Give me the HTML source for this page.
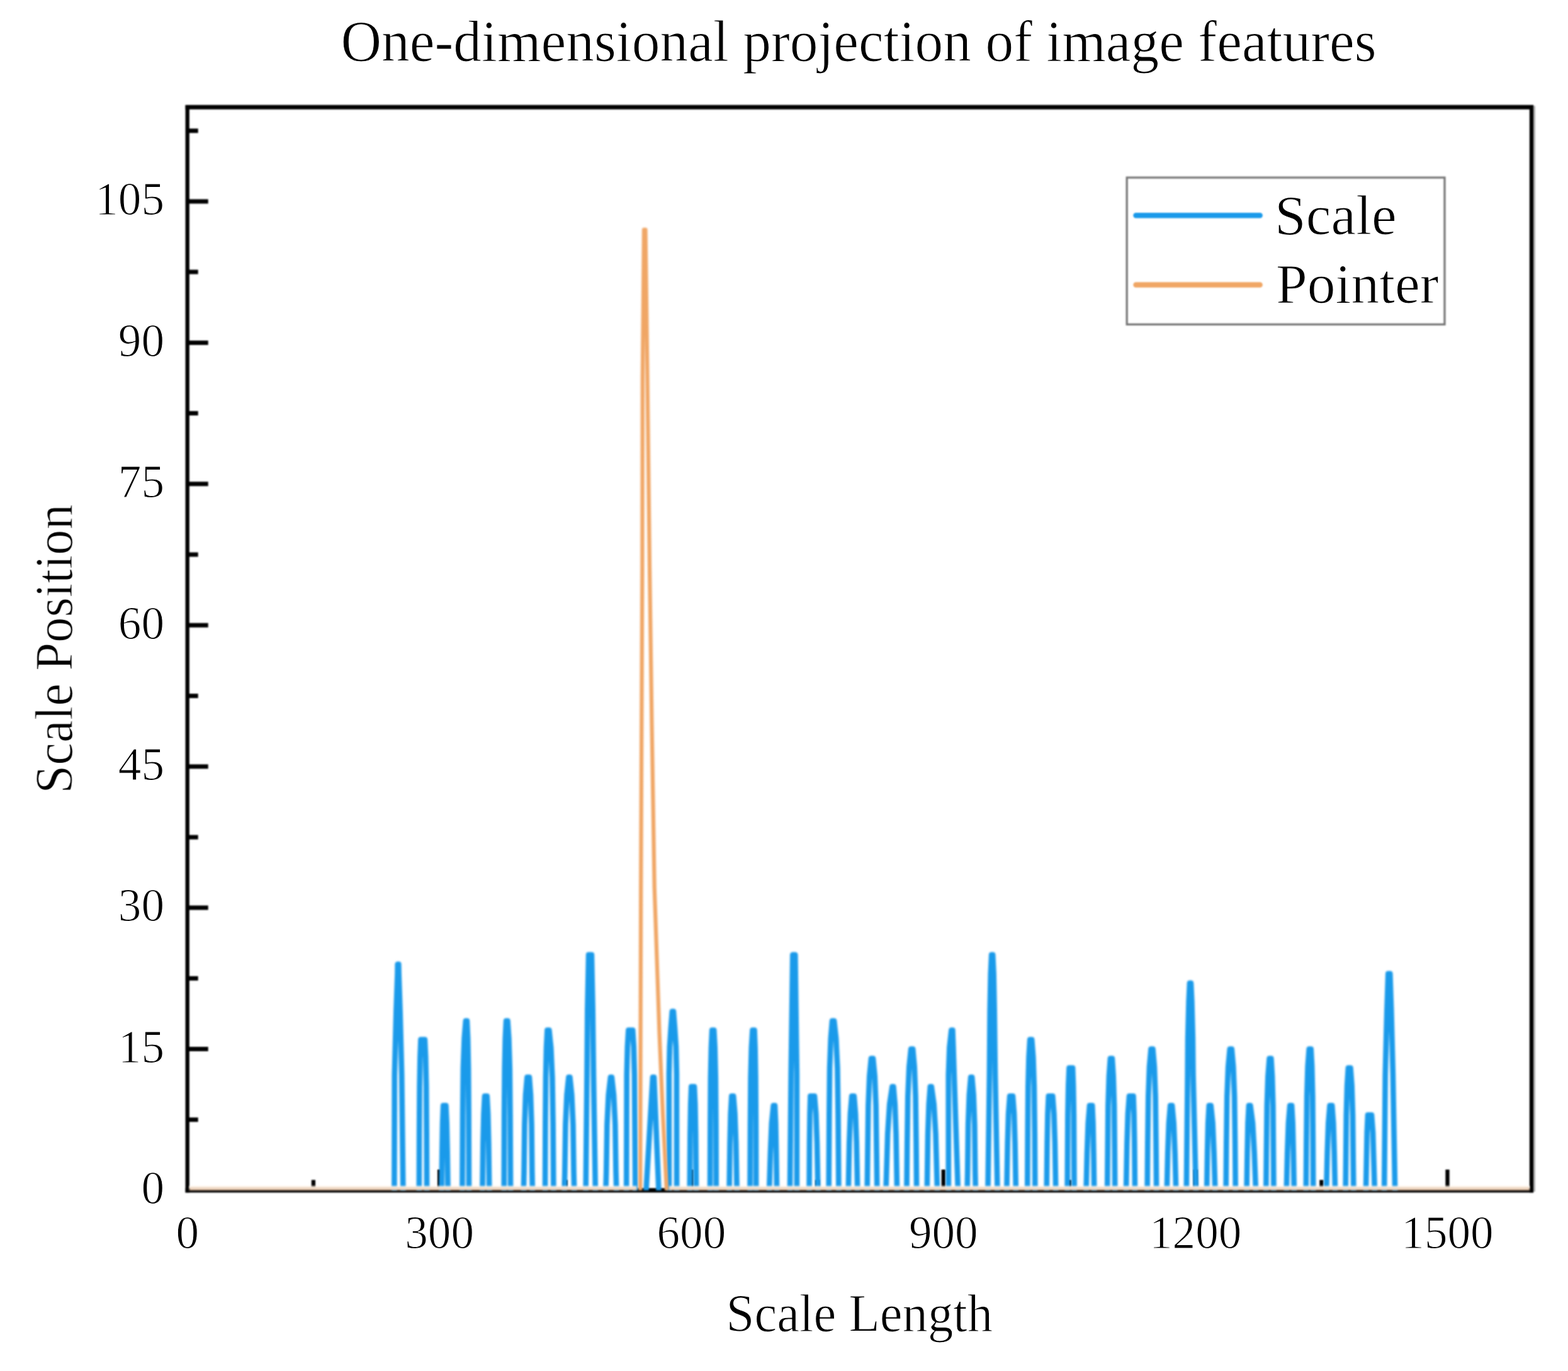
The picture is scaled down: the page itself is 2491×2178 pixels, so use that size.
<!DOCTYPE html>
<html lang="en">
<head>
<meta charset="utf-8">
<title>One-dimensional projection of image features</title>
<style>
html,body{margin:0;padding:0;background:#fff;}
body{width:2491px;height:2178px;overflow:hidden;}
svg{display:block;}
text{font-family:"Liberation Serif",serif;fill:#000;stroke:#fff;stroke-width:1.1px;stroke-linejoin:round;}
.tick{font-size:73.2px;}
.axt{font-size:84px;}
.ttl{font-size:89.5px;}
.ttl2{font-size:93.5px;}
.axh{stroke:#000;stroke-width:7;fill:none;}
.axv{stroke:#000;stroke-width:6.3;fill:none;}
.dat{fill:none;stroke-width:8.6;stroke-linejoin:round;stroke-linecap:butt;}
.btxt{filter:blur(0.6px);}
.bax{filter:blur(0.9px);}
.bdat{filter:blur(1.8px);}
.bdat2{filter:blur(1.5px);}
.bleg{filter:blur(1.3px);}
</style>
</head>
<body>
<svg width="2491" height="2178" viewBox="0 0 2491 2178">
<defs>
<clipPath id="plot"><rect x="297.7" y="170.3" width="2135.3" height="1720.7"/></clipPath>
<linearGradient id="zl" x1="0" y1="0" x2="0" y2="1"><stop offset="0" stop-color="#fdf3ea" stop-opacity="0"/><stop offset="0.3" stop-color="#fbeee2" stop-opacity="1"/><stop offset="0.62" stop-color="#f1d9c4" stop-opacity="1"/><stop offset="1" stop-color="#dfb795" stop-opacity="1"/></linearGradient>
</defs>
<rect x="0" y="0" width="2491" height="2178" fill="#fff"/>
<g class="bax">
<path class="axh" d="M294.6 170.3 H2436.1 M294.6 1891 H2436.1"/>
<path class="axv" d="M297.7 166.9 V1894.4 M2433 166.9 V1894.4"/>
<path d="M2437.6 168.3 V1893" stroke="#a8a8a8" stroke-width="2.6" fill="none"/>
<path class="axv" d="M497.9 1891 v-16.5 M698.1 1891 v-33 M898.3 1891 v-16.5 M1098.4 1891 v-33 M1298.6 1891 v-16.5 M1498.8 1891 v-33 M1699 1891 v-16.5 M1899.2 1891 v-33 M2099.4 1891 v-16.5 M2299.5 1891 v-33"/>
<path class="axh" d="M297.7 1778.8 h17 M297.7 1666.6 h33 M297.7 1554.3 h17 M297.7 1442.1 h33 M297.7 1329.9 h17 M297.7 1217.7 h33 M297.7 1105.5 h17 M297.7 993.2 h33 M297.7 881 h17 M297.7 768.8 h33 M297.7 656.6 h17 M297.7 544.4 h33 M297.7 432.1 h17 M297.7 319.9 h33 M297.7 207.7 h17"/>
</g>
<g class="bdat">
<g clip-path="url(#plot)">
<path class="dat" stroke="#1a9aea" d="M626.4 1894 L626.8 1707.9 L627.9 1663.9 L629.4 1605.9 L631.5 1546.9 L631.7 1531.9 L633.3 1531.9 L633.6 1546.9 L635.6 1605.9 L637.1 1663.9 L638.2 1707.9 L640.4 1894 M665.8 1894 L666.1 1801.6 L666.6 1726.6 L667.4 1679.6 L668.5 1651.6 L674.9 1651.6 L676.2 1679.6 L677.2 1726.6 L677.7 1801.6 L678.1 1894 M701.5 1894 L702.3 1831.3 L703.1 1784.3 L704.2 1756.3 L708.4 1756.3 L709.7 1784.3 L710.7 1831.3 L711.6 1894 M734.4 1894 L735.1 1771.7 L735.9 1696.7 L737.6 1649.7 L739.9 1621.7 L741.9 1621.7 L743.2 1649.7 L744.1 1696.7 L744.6 1771.7 L745 1894 M766.4 1894 L767.4 1816.4 L768.5 1769.4 L770 1741.4 L773.7 1741.4 L775.2 1769.4 L776.3 1816.4 L777.3 1894 M800.7 1894 L801.1 1771.7 L801.7 1696.7 L802.7 1649.7 L804.1 1621.7 L806.5 1621.7 L808.4 1649.7 L809.8 1696.7 L810.5 1771.7 L811.1 1894 M831.8 1894 L832.5 1861.4 L833.4 1786.4 L835 1739.4 L837.4 1711.4 L840.9 1711.4 L843 1739.4 L844.5 1786.4 L845.3 1861.4 L845.9 1894 M866 1894 L866.4 1786.6 L867 1711.6 L868 1664.6 L869.4 1636.6 L872.4 1636.6 L875.3 1664.6 L877.4 1711.6 L878.6 1786.6 L879.4 1894 M896.5 1894 L897.3 1861.4 L898.4 1786.4 L900.5 1739.4 L903.4 1711.4 L905.4 1711.4 L908.3 1739.4 L910.4 1786.4 L911.5 1861.4 L912.3 1894 M930.6 1894 L932.5 1706.9 L933.3 1604.9 L935.1 1516.9 L939.9 1516.9 L941.7 1604.9 L942.9 1706.9 L945.9 1894 M962.3 1894 L963.2 1861.4 L964.4 1786.4 L966.7 1739.4 L969.9 1711.4 L971.9 1711.4 L975 1739.4 L977.3 1786.4 L978.5 1861.4 L979.4 1894 M995.2 1894 L995.7 1707.6 L996.8 1663.6 L998.4 1636.6 L1005.2 1636.6 L1006.8 1663.6 L1007.9 1707.6 L1009.3 1894 M1026.3 1894 L1037 1711.4 L1039 1711.4 L1046.6 1894 M1062.9 1894 L1062.9 1706.7 L1063.9 1662.7 L1065.8 1633.7 L1067.9 1606.7 L1069.9 1606.7 L1072 1633.7 L1073.9 1662.7 L1074.9 1706.7 L1075.1 1894 M1095.7 1894 L1096.4 1801.4 L1097.2 1754.4 L1098.3 1726.4 L1103 1726.4 L1104.3 1754.4 L1105.2 1801.4 L1106.1 1894 M1128 1894 L1128.4 1786.6 L1128.9 1711.6 L1129.9 1664.6 L1131.2 1636.6 L1134.2 1636.6 L1135.7 1664.6 L1136.8 1711.6 L1137.4 1786.6 L1137.8 1894 M1158.5 1894 L1159.6 1816.4 L1160.7 1769.4 L1162.3 1741.4 L1165.2 1741.4 L1167.5 1769.4 L1169.2 1816.4 L1170.7 1894 M1191.5 1894 L1192 1786.6 L1192.6 1711.6 L1193.8 1664.6 L1195.5 1636.6 L1198.5 1636.6 L1199.6 1664.6 L1200.4 1711.6 L1200.9 1786.6 L1201.2 1894 M1222 1894 L1223.9 1831.3 L1225.9 1784.3 L1228.7 1756.3 L1231 1756.3 L1232.3 1784.3 L1233.2 1831.3 L1234.1 1894 M1254.9 1894 L1256.7 1706.9 L1258.1 1603.9 L1259.3 1516.9 L1263.3 1516.9 L1264.5 1603.9 L1265.9 1706.9 L1265.9 1894 M1285.5 1894 L1286 1816.4 L1286.6 1769.4 L1287.4 1741.4 L1294 1741.4 L1296.3 1769.4 L1298 1816.4 L1299.5 1894 M1316.6 1894 L1317.3 1771.7 L1318.1 1696.7 L1319.8 1649.7 L1322.1 1621.7 L1325.1 1621.7 L1328.2 1649.7 L1330.4 1696.7 L1331.5 1771.7 L1332.4 1894 M1347.7 1894 L1349.2 1816.4 L1350.9 1769.4 L1353.2 1741.4 L1356.8 1741.4 L1359.1 1769.4 L1360.8 1816.4 L1362.3 1894 M1377.6 1894 L1378.4 1831.5 L1379.4 1756.5 L1381.3 1709.5 L1384 1681.5 L1387 1681.5 L1389.7 1709.5 L1391.6 1756.5 L1392.6 1831.5 L1393.4 1894 M1407.4 1894 L1410.2 1801.4 L1413.2 1754.4 L1417.4 1726.4 L1419.4 1726.4 L1421.8 1754.4 L1423.5 1801.4 L1425.1 1894 M1440.4 1894 L1441.2 1816.6 L1442.3 1741.6 L1444.3 1694.6 L1447.2 1666.6 L1450.2 1666.6 L1452.7 1694.6 L1454.5 1741.6 L1455.5 1816.6 L1456.2 1894 M1472.7 1894 L1474.1 1801.4 L1475.7 1754.4 L1477.8 1726.4 L1479.8 1726.4 L1483.7 1754.4 L1486.5 1801.4 L1489.1 1894 M1506.8 1894 L1506.8 1707.6 L1508.4 1663.6 L1511.4 1636.6 L1513.4 1636.6 L1514.4 1663.6 L1515.8 1707.6 L1522 1894 M1536.5 1894 L1537.2 1861.4 L1538.1 1786.4 L1539.8 1739.4 L1542.2 1711.4 L1544.2 1711.4 L1546.6 1739.4 L1548.3 1786.4 L1549.2 1861.4 L1549.9 1894 M1569.4 1894 L1571.9 1706.9 L1572.7 1604.9 L1573.8 1546.9 L1575.2 1516.9 L1577.2 1516.9 L1578.6 1546.9 L1579.7 1604.9 L1581 1706.9 L1584.6 1894 M1599.3 1894 L1600.7 1816.4 L1602.1 1769.4 L1604.2 1741.4 L1609 1741.4 L1611.1 1769.4 L1612.5 1816.4 L1613.9 1894 M1632.2 1894 L1632.7 1801.6 L1633.3 1726.6 L1634.5 1679.6 L1636.2 1651.6 L1639.2 1651.6 L1641.4 1679.6 L1642.9 1726.6 L1643.8 1801.6 L1644.4 1894 M1662.7 1894 L1663.6 1816.4 L1664.5 1769.4 L1665.8 1741.4 L1672.3 1741.4 L1674.4 1769.4 L1675.9 1816.4 L1677.3 1894 M1695.6 1894 L1695.9 1846.5 L1696.4 1771.5 L1697.3 1724.5 L1698.5 1696.5 L1704.1 1696.5 L1705.1 1724.5 L1705.9 1771.5 L1706.3 1846.5 L1706.6 1894 M1725.5 1894 L1727 1831.3 L1728.7 1784.3 L1731 1756.3 L1735.2 1756.3 L1736.5 1784.3 L1737.4 1831.3 L1738.3 1894 M1759.1 1894 L1759.7 1831.5 L1760.4 1756.5 L1761.9 1709.5 L1763.9 1681.5 L1766.9 1681.5 L1768.7 1709.5 L1770.1 1756.5 L1770.8 1831.5 L1771.3 1894 M1789 1894 L1790.4 1816.4 L1791.9 1769.4 L1794 1741.4 L1800.5 1741.4 L1801.5 1769.4 L1802.3 1816.4 L1803 1894 M1822.6 1894 L1823.3 1816.6 L1824.3 1741.6 L1826 1694.6 L1828.5 1666.6 L1831.5 1666.6 L1833.9 1694.6 L1835.6 1741.6 L1836.5 1816.6 L1837.2 1894 M1853.7 1894 L1855.2 1831.3 L1856.9 1784.3 L1859.2 1756.3 L1862.1 1756.3 L1864.7 1784.3 L1866.6 1831.3 L1868.3 1894 M1884.8 1894 L1886.7 1707.8 L1887.1 1649.8 L1888.6 1590.8 L1890 1561.8 L1892 1561.8 L1893.4 1590.8 L1894.9 1649.8 L1895.5 1707.8 L1900 1894 M1917.1 1894 L1918.1 1831.3 L1919.2 1784.3 L1920.8 1756.3 L1923.7 1756.3 L1926.6 1784.3 L1928.6 1831.3 L1930.5 1894 M1947.6 1894 L1948.3 1816.6 L1949.3 1741.6 L1951.2 1694.6 L1953.8 1666.6 L1956.8 1666.6 L1959.3 1694.6 L1961.1 1741.6 L1962.1 1816.6 L1962.8 1894 M1980.5 1894 L1981.5 1831.3 L1982.5 1784.3 L1984 1756.3 L1986.4 1756.3 L1990.1 1784.3 L1992.7 1831.3 L1995.1 1894 M2011.3 1894 L2011.9 1831.5 L2012.8 1756.5 L2014.4 1709.5 L2016.6 1681.5 L2019.4 1681.5 L2021.1 1709.5 L2022.4 1756.5 L2023 1831.5 L2023.5 1894 M2043.7 1894 L2045.2 1831.3 L2046.9 1784.3 L2049.2 1756.3 L2052.1 1756.3 L2053.7 1784.3 L2054.8 1831.3 L2055.9 1894 M2074.8 1894 L2075.4 1816.6 L2076.2 1741.6 L2077.6 1694.6 L2079.7 1666.6 L2082.7 1666.6 L2084.2 1694.6 L2085.3 1741.6 L2085.9 1816.6 L2086.3 1894 M2107.1 1894 L2108.6 1831.3 L2110.3 1784.3 L2112.6 1756.3 L2116.2 1756.3 L2118.3 1784.3 L2119.7 1831.3 L2121.1 1894 M2137.6 1894 L2138.1 1846.5 L2138.8 1771.5 L2140.1 1724.5 L2141.9 1696.5 L2145.5 1696.5 L2147.6 1724.5 L2149 1771.5 L2149.8 1846.5 L2150.4 1894 M2169.9 1894 L2170.8 1846.3 L2171.7 1799.3 L2173 1771.3 L2179 1771.3 L2181.1 1799.3 L2182.5 1846.3 L2183.9 1894 M2199.1 1894 L2200.7 1707.9 L2202.2 1648.9 L2203.3 1605.9 L2205.3 1546.9 L2208.3 1546.9 L2210.3 1605.9 L2211.4 1648.9 L2212.9 1707.9 L2216.2 1894"/>
</g>
</g>
<g class="bdat2">
<g clip-path="url(#plot)">
<path class="dat" style="stroke-width:6.2" stroke="#f0a665" d="M1017.2 1894 L1017.5 1700 L1018.2 1410 L1020.4 900 L1020.8 600 L1023 364.8 L1025.5 364.8 L1028.5 600 L1032 900 L1035.5 1150 L1039.7 1410 L1047.5 1640 L1053 1770 L1059.2 1894"/>
</g>
<rect x="300.7" y="1883" width="710.8" height="8" fill="url(#zl)"/>
<rect x="1063" y="1883" width="1367" height="8" fill="url(#zl)"/>
</g>
<g class="bleg">
<rect x="1790.2" y="282.1" width="504.8" height="233.3" fill="#fff" stroke="#757575" stroke-width="3.2"/>
<path d="M1804.6 342.3 H2001.6" stroke="#1a9aea" stroke-width="8.5" stroke-linecap="round" fill="none"/>
<path d="M1804.6 452.6 H2001.6" stroke="#f0a665" stroke-width="8.5" stroke-linecap="round" fill="none"/>
</g>
<g class="btxt">
<text class="ttl2" x="1364" y="97.2" text-anchor="middle" textLength="1645.2" lengthAdjust="spacingAndGlyphs">One-dimensional projection of image features</text>
<text class="tick" x="297.7" y="1982.5" text-anchor="middle">0</text>
<text class="tick" x="698.1" y="1982.5" text-anchor="middle">300</text>
<text class="tick" x="1098.4" y="1982.5" text-anchor="middle">600</text>
<text class="tick" x="1498.8" y="1982.5" text-anchor="middle">900</text>
<text class="tick" x="1899.2" y="1982.5" text-anchor="middle">1200</text>
<text class="tick" x="2299.5" y="1982.5" text-anchor="middle">1500</text>
<text class="tick" x="261" y="1912.3" text-anchor="end">0</text>
<text class="tick" x="261" y="1687.9" text-anchor="end">15</text>
<text class="tick" x="261" y="1463.4" text-anchor="end">30</text>
<text class="tick" x="261" y="1239" text-anchor="end">45</text>
<text class="tick" x="261" y="1014.5" text-anchor="end">60</text>
<text class="tick" x="261" y="790.1" text-anchor="end">75</text>
<text class="tick" x="261" y="565.7" text-anchor="end">90</text>
<text class="tick" x="261" y="341.2" text-anchor="end">105</text>
<text class="axt" x="1365.3" y="2114.6" text-anchor="middle" textLength="423.5" lengthAdjust="spacingAndGlyphs">Scale Length</text>
<text class="axt" transform="translate(114.5 1030.8) rotate(-90)" text-anchor="middle" textLength="459.5" lengthAdjust="spacingAndGlyphs">Scale Position</text>
<text class="ttl" x="2025" y="372">Scale</text>
<text class="ttl" x="2027" y="481.4">Pointer</text>
</g>
</svg>
</body>
</html>
